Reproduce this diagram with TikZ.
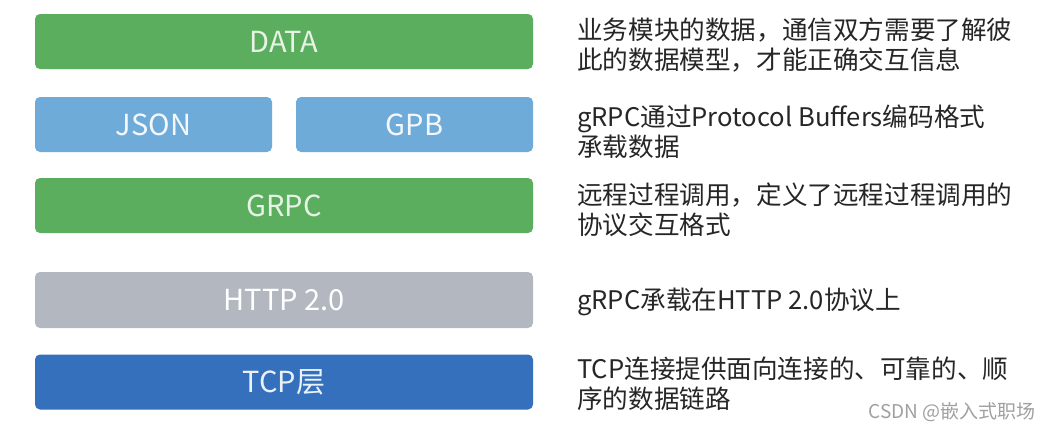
\documentclass[tikz,border=0pt]{standalone}
\usepackage{fontspec}
\setmainfont{Noto Sans CJK SC}
\definecolor{layergreen}{HTML}{5BAE5D}
\definecolor{codecblue}{HTML}{6EABD9}
\definecolor{httpgray}{HTML}{B3B8C0}
\definecolor{tcpblue}{HTML}{3570BC}
\definecolor{notetext}{HTML}{262626}
\definecolor{marktext}{HTML}{A0A0A0}
\begin{document}
\begin{tikzpicture}[x=1pt,y=-1pt,
    layer/.style={rounded corners=5pt, inner sep=0pt, minimum height=55pt,
        minimum width=498pt, font=\fontsize{29}{30}\selectfont},
    codec/.style={layer, minimum width=237pt, fill=codecblue, text=white!92!codecblue},
    note/.style={anchor=west, align=left, inner sep=0pt, text=notetext,
        font=\fontsize{25.6}{30}\selectfont}]

    \useasboundingbox[fill=white] (0,0) rectangle (1045,434);

    % protocol stack
    \node[layer, fill=layergreen, text=white!85!layergreen] (data) at (284,41.5) {DATA};
    \node[codec] (json) at (153.5,124.5) {JSON};
    \node[codec] (gpb) at (414.5,124.5) {GPB};
    \node[layer, fill=layergreen, text=white!85!layergreen] (grpc) at (284,205.5) {GRPC};
    \node[layer, fill=httpgray, text=white, minimum height=56pt] (http) at (284,300) {HTTP 2.0};
    \node[layer, fill=tcpblue, text=white!90!tcpblue] (tcp) at (284,382) {TCP层};

    % notes on the right
    \node[note] (datanote) at (577,45.5) {业务模块的数据，通信双方需要了解彼\\此的数据模型，才能正确交互信息};
    \node[note] (gpbnote) at (577,131.5) {gRPC通过Protocol Buffers编码格式\\承载数据};
    \node[note] (grpcnote) at (577,209.5) {远程过程调用，定义了远程过程调用的\\协议交互格式};
    \node[note] (httpnote) at (577,302) {gRPC承载在HTTP 2.0协议上};
    \node[note] (tcpnote) at (577,383.5) {TCP连接提供面向连接的、可靠的、顺\\序的数据链路};

    \node[anchor=east, inner sep=0pt, text=marktext, font=\fontsize{19}{20}\selectfont]
        (mark) at (1036,412) {CSDN @嵌入式职场};
\end{tikzpicture}
\end{document}
